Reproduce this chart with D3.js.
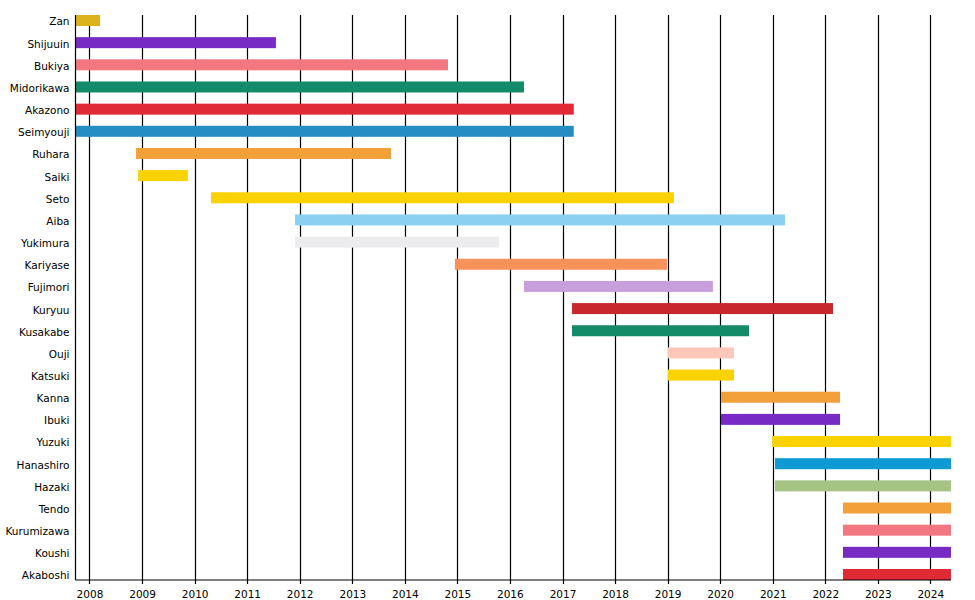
<!DOCTYPE html>
<html>
<head>
<meta charset="utf-8">
<script src="https://cdn.jsdelivr.net/npm/d3@7"></script>
<style>
  body { margin: 0; background: #fff; }
  text { font-family: "DejaVu Sans", sans-serif; }
</style>
</head>
<body>
<svg></svg>
<script>
const names = ["Zan", "Shijuuin", "Bukiya", "Midorikawa", "Akazono", "Seimyouji", "Ruhara", "Saiki", "Seto", "Aiba",
  "Yukimura", "Kariyase", "Fujimori", "Kuryuu", "Kusakabe", "Ouji", "Katsuki", "Kanna", "Ibuki", "Yuzuki",
  "Hanashiro", "Hazaki", "Tendo", "Kurumizawa", "Koushi", "Akaboshi"];

const starts = ["2007-09-26", "2007-09-26", "2007-09-26", "2007-09-26", "2007-09-26", "2007-09-26", "2008-11-20", "2008-12-04", "2010-04-25", "2011-11-30",
  "2011-11-30", "2014-12-15", "2016-04-08", "2017-03-08", "2017-03-08", "2019-01-04", "2019-01-04", "2020-01-07", "2020-01-07", "2020-12-28",
  "2021-01-17", "2021-01-17", "2022-05-04", "2022-05-04", "2022-05-04", "2022-05-04"];

const ends = ["2008-03-15", "2011-07-20", "2014-10-28", "2016-04-08", "2017-03-20", "2017-03-20", "2013-09-27", "2009-11-15", "2019-02-14", "2021-03-27",
  "2015-10-18", "2018-12-28", "2019-11-12", "2022-02-24", "2020-07-20", "2020-04-07", "2020-04-07", "2022-04-14", "2022-04-14", "2024-05-24",
  "2024-05-24", "2024-05-24", "2024-05-24", "2024-05-24", "2024-05-24", "2024-05-24"];

const colors = ["#ddb31d", "#772bc4", "#f37780", "#138a68", "#e02a36", "#258dc3", "#f1a03a", "#fad200", "#fad200", "#8bd0f0",
  "#ececee", "#f7935a", "#c99edc", "#c7272d", "#138a68", "#fbc8ba", "#fad200", "#f1a03a", "#772bc4", "#fad200",
  "#0d9bd4", "#a5c382", "#f1a03a", "#f37780", "#772bc4", "#e02a36"];

const svgWidth = 975;
const svgHeight = 600;
const plotLeft = 75.5, plotRight = 951, plotTop = 15, plotBottom = 580;
const barHeight = 11;

const parse = d3.utcParse("%Y-%m-%d");
const rows = names.map((n, i) => ({ name: n, start: parse(starts[i]), end: parse(ends[i]), color: colors[i] }));

const svg = d3.select("svg")
  .attr("width", svgWidth)
  .attr("height", svgHeight);

const xScale = d3.scaleUtc()
  .domain([d3.min(rows, d => d.start), d3.max(rows, d => d.end)])
  .range([plotLeft, plotRight]);

const yScale = d3.scalePoint()
  .domain(names)
  .range([plotTop + barHeight / 2, plotBottom - barHeight / 2]);

const years = d3.utcYear.range(d3.utcYear.ceil(xScale.domain()[0]), xScale.domain()[1]);
const snap = d => Math.round(xScale(d)) + 0.5;

// year grid lines, behind the bars
svg.append("g")
  .selectAll("line")
  .data(years)
  .join("line")
  .attr("x1", snap)
  .attr("x2", snap)
  .attr("y1", plotTop)
  .attr("y2", plotBottom + 4)
  .attr("stroke", "#000")
  .attr("stroke-width", 1.2);

svg.append("g")
  .selectAll("rect")
  .data(rows)
  .join("rect")
  .attr("x", d => xScale(d.start))
  .attr("width", d => xScale(d.end) - xScale(d.start))
  .attr("y", d => yScale(d.name) - barHeight / 2)
  .attr("height", barHeight)
  .attr("fill", d => d.color);

const x_axis = d3.axisBottom(xScale)
  .tickValues(years)
  .tickFormat(d3.utcFormat("%Y"))
  .tickSize(4)
  .tickPadding(7);

const gx = svg.append("g")
  .attr("transform", "translate(0," + plotBottom + ")")
  .call(x_axis);
gx.select(".domain").remove();
gx.selectAll(".tick line").remove();
gx.selectAll(".tick text")
  .attr("font-size", "10.5px")
  .attr("font-family", "DejaVu Sans, sans-serif")
  .attr("fill", "#000");

const y_axis = d3.axisLeft(yScale).tickSize(0).tickPadding(6);
const gy = svg.append("g")
  .attr("transform", "translate(" + plotLeft + ",0)")
  .call(y_axis);
gy.select(".domain").remove();
gy.selectAll(".tick text")
  .attr("font-size", "10.5px")
  .attr("font-family", "DejaVu Sans, sans-serif")
  .attr("fill", "#000")
  .attr("dy", "0.42em");

// axis spines
svg.append("line")
  .attr("x1", plotLeft).attr("x2", plotLeft)
  .attr("y1", plotTop).attr("y2", plotBottom)
  .attr("stroke", "#000").attr("stroke-width", 1.2);
svg.append("line")
  .attr("x1", plotLeft).attr("x2", plotRight)
  .attr("y1", plotBottom).attr("y2", plotBottom)
  .attr("stroke", "#000").attr("stroke-width", 1.2);
</script>
</body>
</html>
